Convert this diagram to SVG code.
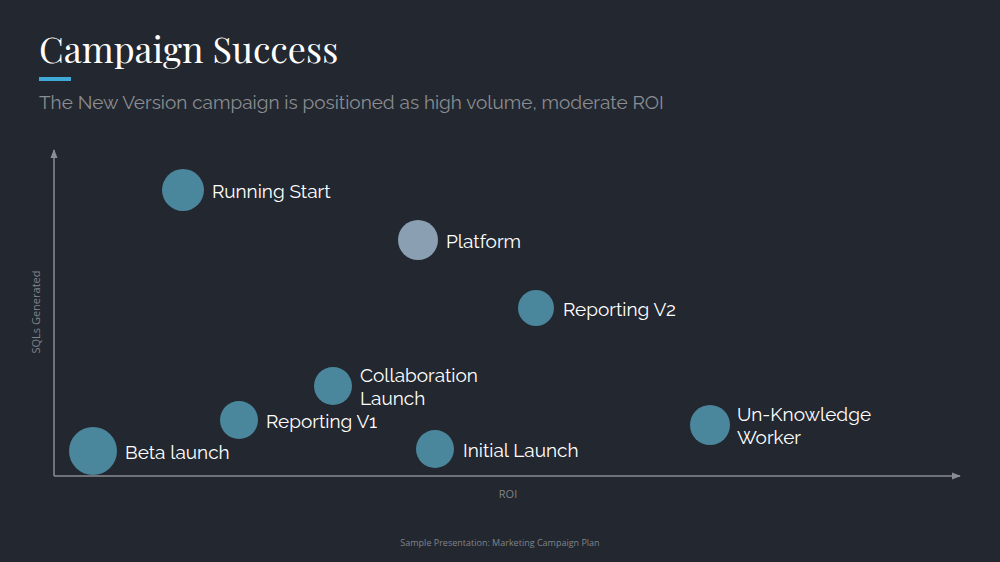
<svg xmlns="http://www.w3.org/2000/svg" width="1000" height="562" viewBox="0 0 1000 562">
<style>
.b{fill:#4a879d}
.l{font-family:Raleway,"Open Sans","Liberation Sans",sans-serif;font-size:19px;fill:#ffffff}
.ax{stroke:#8a8d92;stroke-width:1.5;fill:none}
.sm{font-family:"Open Sans","Liberation Sans",sans-serif;fill:#80848a}
</style>
<defs><marker id="ar" viewBox="0 0 10 10" refX="9" refY="5" markerWidth="6" markerHeight="6" orient="auto"><path d="M0,1 L10,5 L0,9 z" fill="#8a8d92"/></marker></defs>
<rect width="1000" height="562" fill="#23272f"/>
<text x="39" y="63" font-family="'Playfair Display','Liberation Serif',serif" font-size="36" fill="#ffffff">Campaign Success</text>
<rect x="39" y="77" width="32" height="4" fill="#3fa9d8"/>
<text x="39" y="109" font-family="Raleway,'Open Sans','Liberation Sans',sans-serif" font-size="19" fill="#8a8d92">The New Version campaign is positioned as high volume, moderate ROI</text>
<g id="connectors">
<path class="ax" d="M54,476 V150" marker-end="url(#ar)"/>
<path class="ax" d="M54,476 H960" marker-end="url(#ar)"/>
</g>
<text class="sm" font-size="11" transform="translate(40,312) rotate(-90)" text-anchor="middle">SQLs Generated</text>
<text class="sm" font-size="11" x="508" y="498" text-anchor="middle">ROI</text>
<text class="sm" font-size="9" x="500" y="546" text-anchor="middle">Sample Presentation: Marketing Campaign Plan</text>
<g id="running"><circle class="b" cx="183" cy="190" r="21"/><text class="l" x="212" y="198">Running Start</text></g>
<g id="platform"><circle cx="418" cy="240" r="20" fill="#8a9fb2"/><text class="l" x="446" y="248">Platform</text></g>
<g id="repv2"><circle class="b" cx="536" cy="308" r="18"/><text class="l" x="563" y="316">Reporting V2</text></g>
<g id="collab"><circle class="b" cx="333" cy="386" r="19"/><text class="l" x="360" y="382">Collaboration</text><text class="l" x="360" y="405">Launch</text></g>
<g id="repv1"><circle class="b" cx="239" cy="420" r="19"/><text class="l" x="266" y="428">Reporting V1</text></g>
<g id="beta"><circle class="b" cx="93" cy="451" r="24"/><text class="l" x="125" y="459">Beta launch</text></g>
<g id="initial"><circle class="b" cx="435" cy="449" r="19"/><text class="l" x="463" y="457">Initial Launch</text></g>
<g id="unk"><circle class="b" cx="710" cy="425" r="20"/><text class="l" x="737" y="421">Un-Knowledge</text><text class="l" x="737" y="444">Worker</text></g>
</svg>
